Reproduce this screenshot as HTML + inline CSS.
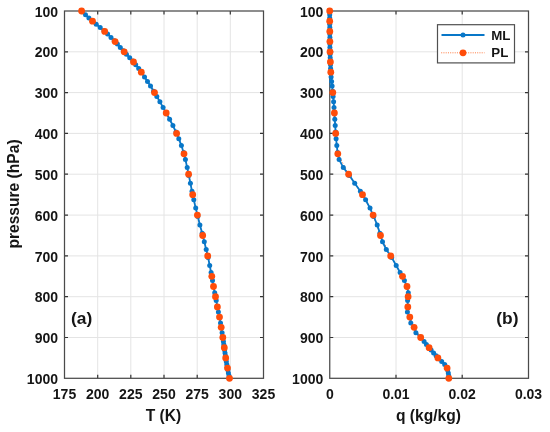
<!DOCTYPE html>
<html><head><meta charset="utf-8"><style>
html,body{margin:0;padding:0;background:#fff;}
body{width:550px;height:432px;overflow:hidden;}
svg{display:block;}
text{font-family:"Liberation Sans",Arial,sans-serif;font-weight:bold;fill:#151515;}
.tk{font-size:14px;}
.lb{font-size:15.6px;}
</style></head><body>
<svg width="550" height="432" viewBox="0 0 550 432">
<rect width="550" height="432" fill="#fff"/>
<!-- left axes -->
<rect x="64" y="11" width="199" height="367" fill="#fff"/>
<path d="M97.7 11.0V378.3M130.8 11.0V378.3M164.0 11.0V378.3M197.2 11.0V378.3M230.3 11.0V378.3M64.5 51.8H263.5M64.5 92.6H263.5M64.5 133.4H263.5M64.5 174.2H263.5M64.5 215.1H263.5M64.5 255.9H263.5M64.5 296.7H263.5M64.5 337.5H263.5" stroke="#e4e4e4" stroke-width="1" fill="none"/>
<rect x="329" y="11" width="199" height="367" fill="#fff"/>
<path d="M396.0 11.0V378.3M462.2 11.0V378.3M329.75 51.8H528.5M329.75 92.6H528.5M329.75 133.4H528.5M329.75 174.2H528.5M329.75 215.1H528.5M329.75 255.9H528.5M329.75 296.7H528.5M329.75 337.5H528.5" stroke="#e4e4e4" stroke-width="1" fill="none"/>
<path d="M97.7 378.3v-3.5M97.7 11.0v3.5M130.8 378.3v-3.5M130.8 11.0v3.5M164.0 378.3v-3.5M164.0 11.0v3.5M197.2 378.3v-3.5M197.2 11.0v3.5M230.3 378.3v-3.5M230.3 11.0v3.5M64.5 51.8h3.5M263.5 51.8h-3.5M64.5 92.6h3.5M263.5 92.6h-3.5M64.5 133.4h3.5M263.5 133.4h-3.5M64.5 174.2h3.5M263.5 174.2h-3.5M64.5 215.1h3.5M263.5 215.1h-3.5M64.5 255.9h3.5M263.5 255.9h-3.5M64.5 296.7h3.5M263.5 296.7h-3.5M64.5 337.5h3.5M263.5 337.5h-3.5" stroke="#333" stroke-width="1.2" fill="none"/>
<path d="M396.0 378.3v-3.5M396.0 11.0v3.5M462.2 378.3v-3.5M462.2 11.0v3.5M329.75 51.8h3.5M528.5 51.8h-3.5M329.75 92.6h3.5M528.5 92.6h-3.5M329.75 133.4h3.5M528.5 133.4h-3.5M329.75 174.2h3.5M528.5 174.2h-3.5M329.75 215.1h3.5M528.5 215.1h-3.5M329.75 255.9h3.5M528.5 255.9h-3.5M329.75 296.7h3.5M528.5 296.7h-3.5M329.75 337.5h3.5M528.5 337.5h-3.5" stroke="#333" stroke-width="1.2" fill="none"/>
<rect x="64.5" y="11" width="199" height="367.3" fill="none" stroke="#4a4a4a" stroke-width="1.25"/>
<rect x="329.75" y="11" width="198.75" height="367.3" fill="none" stroke="#4a4a4a" stroke-width="1.25"/>
<!-- left data -->
<polyline points="81.6,11.0 92.5,21.2 104.7,31.4 115.1,41.6 124.2,51.8 133.5,62.0 141.3,72.2 154.5,92.6 166.2,113.0 176.6,133.4 184.0,153.8 188.6,174.2 192.7,194.7 197.4,215.1 202.7,235.5 207.7,255.9 211.8,276.3 213.5,286.5 215.5,296.7 217.4,306.9 219.5,317.1 221.2,327.3 222.8,337.5 224.3,347.7 225.7,357.9 227.5,368.1 229.5,378.3" fill="none" stroke="#ff5a1a" stroke-width="1" stroke-dasharray="1 2"/>
<polyline points="81.6,11.0 82.3,11.7 85.5,14.8 88.9,17.9 92.4,21.1 96.2,24.3 100.2,27.5 104.0,30.8 107.6,34.1 111.0,37.4 114.2,40.7 117.4,44.1 120.3,47.4 123.3,50.8 126.4,54.2 129.7,57.7 132.8,61.1 135.7,64.8 138.7,68.6 141.6,72.6 144.5,76.9 147.5,81.4 150.5,86.1 153.6,91.2 156.8,96.4 159.9,101.8 163.1,107.4 166.3,113.2 169.6,119.3 172.9,125.5 176.0,132.0 178.8,138.7 181.4,145.6 183.6,152.5 185.4,159.5 187.2,167.6 188.8,175.4 190.4,183.2 192.0,191.3 193.8,199.8 195.7,208.1 197.8,216.5 199.9,224.9 202.2,233.3 204.3,241.8 206.2,249.5 208.1,257.5 209.7,265.5 211.1,272.5 212.5,280.6 213.5,286.7 214.7,292.8 216.2,300.6 217.3,306.3 218.4,311.9 219.6,317.4 220.5,322.9 221.3,327.8 222.1,332.8 222.7,337.1 223.4,341.5 223.8,344.4 224.2,347.2 224.6,350.1 225.0,353.0 225.4,355.8 225.8,358.7 226.3,361.5 226.8,364.4 227.3,367.2 227.9,370.1 228.4,373.0 229.0,375.8 229.5,378.3" fill="none" stroke="#0877c8" stroke-width="1.8"/>
<g fill="#0877c8"><circle cx="82.3" cy="11.7" r="2.5"/><circle cx="85.5" cy="14.8" r="2.5"/><circle cx="88.9" cy="17.9" r="2.5"/><circle cx="92.4" cy="21.1" r="2.5"/><circle cx="96.2" cy="24.3" r="2.5"/><circle cx="100.2" cy="27.5" r="2.5"/><circle cx="104.0" cy="30.8" r="2.5"/><circle cx="107.6" cy="34.1" r="2.5"/><circle cx="111.0" cy="37.4" r="2.5"/><circle cx="114.2" cy="40.7" r="2.5"/><circle cx="117.4" cy="44.1" r="2.5"/><circle cx="120.3" cy="47.4" r="2.5"/><circle cx="123.3" cy="50.8" r="2.5"/><circle cx="126.4" cy="54.2" r="2.5"/><circle cx="129.7" cy="57.7" r="2.5"/><circle cx="132.8" cy="61.1" r="2.5"/><circle cx="135.7" cy="64.8" r="2.5"/><circle cx="138.7" cy="68.6" r="2.5"/><circle cx="141.6" cy="72.6" r="2.5"/><circle cx="144.5" cy="76.9" r="2.5"/><circle cx="147.5" cy="81.4" r="2.5"/><circle cx="150.5" cy="86.1" r="2.5"/><circle cx="153.6" cy="91.2" r="2.5"/><circle cx="156.8" cy="96.4" r="2.5"/><circle cx="159.9" cy="101.8" r="2.5"/><circle cx="163.1" cy="107.4" r="2.5"/><circle cx="166.3" cy="113.2" r="2.5"/><circle cx="169.6" cy="119.3" r="2.5"/><circle cx="172.9" cy="125.5" r="2.5"/><circle cx="176.0" cy="132.0" r="2.5"/><circle cx="178.8" cy="138.7" r="2.5"/><circle cx="181.4" cy="145.6" r="2.5"/><circle cx="183.6" cy="152.5" r="2.5"/><circle cx="185.4" cy="159.5" r="2.5"/><circle cx="187.2" cy="167.6" r="2.5"/><circle cx="188.8" cy="175.4" r="2.5"/><circle cx="190.4" cy="183.2" r="2.5"/><circle cx="192.0" cy="191.3" r="2.5"/><circle cx="193.8" cy="199.8" r="2.5"/><circle cx="195.7" cy="208.1" r="2.5"/><circle cx="197.8" cy="216.5" r="2.5"/><circle cx="199.9" cy="224.9" r="2.5"/><circle cx="202.2" cy="233.3" r="2.5"/><circle cx="204.3" cy="241.8" r="2.5"/><circle cx="206.2" cy="249.5" r="2.5"/><circle cx="208.1" cy="257.5" r="2.5"/><circle cx="209.7" cy="265.5" r="2.5"/><circle cx="211.1" cy="272.5" r="2.5"/><circle cx="212.5" cy="280.6" r="2.5"/><circle cx="213.5" cy="286.7" r="2.5"/><circle cx="214.7" cy="292.8" r="2.5"/><circle cx="216.2" cy="300.6" r="2.5"/><circle cx="217.3" cy="306.3" r="2.5"/><circle cx="218.4" cy="311.9" r="2.5"/><circle cx="219.6" cy="317.4" r="2.5"/><circle cx="220.5" cy="322.9" r="2.5"/><circle cx="221.3" cy="327.8" r="2.5"/><circle cx="222.1" cy="332.8" r="2.5"/><circle cx="222.7" cy="337.1" r="2.5"/><circle cx="223.4" cy="341.5" r="2.5"/><circle cx="223.8" cy="344.4" r="2.5"/><circle cx="224.2" cy="347.2" r="2.5"/><circle cx="224.6" cy="350.1" r="2.5"/><circle cx="225.0" cy="353.0" r="2.5"/><circle cx="225.4" cy="355.8" r="2.5"/><circle cx="225.8" cy="358.7" r="2.5"/><circle cx="226.3" cy="361.5" r="2.5"/><circle cx="226.8" cy="364.4" r="2.5"/><circle cx="227.3" cy="367.2" r="2.5"/><circle cx="227.9" cy="370.1" r="2.5"/><circle cx="228.4" cy="373.0" r="2.5"/><circle cx="229.0" cy="375.8" r="2.5"/></g>
<g fill="#ff4d0a"><circle cx="81.6" cy="11.0" r="3.4"/><circle cx="92.5" cy="21.2" r="3.4"/><circle cx="104.7" cy="31.4" r="3.4"/><circle cx="115.1" cy="41.6" r="3.4"/><circle cx="124.2" cy="51.8" r="3.4"/><circle cx="133.5" cy="62.0" r="3.4"/><circle cx="141.3" cy="72.2" r="3.4"/><circle cx="154.5" cy="92.6" r="3.4"/><circle cx="166.2" cy="113.0" r="3.4"/><circle cx="176.6" cy="133.4" r="3.4"/><circle cx="184.0" cy="153.8" r="3.4"/><circle cx="188.6" cy="174.2" r="3.4"/><circle cx="192.7" cy="194.7" r="3.4"/><circle cx="197.4" cy="215.1" r="3.4"/><circle cx="202.7" cy="235.5" r="3.4"/><circle cx="207.7" cy="255.9" r="3.4"/><circle cx="211.8" cy="276.3" r="3.4"/><circle cx="213.5" cy="286.5" r="3.4"/><circle cx="215.5" cy="296.7" r="3.4"/><circle cx="217.4" cy="306.9" r="3.4"/><circle cx="219.5" cy="317.1" r="3.4"/><circle cx="221.2" cy="327.3" r="3.4"/><circle cx="222.8" cy="337.5" r="3.4"/><circle cx="224.3" cy="347.7" r="3.4"/><circle cx="225.7" cy="357.9" r="3.4"/><circle cx="227.5" cy="368.1" r="3.4"/><circle cx="229.5" cy="378.3" r="3.4"/></g>
<!-- right data -->
<polyline points="329.7,11.0 329.7,21.2 329.8,31.4 329.9,41.6 330.0,51.8 330.4,62.0 330.8,72.2 332.8,92.6 334.4,113.0 335.7,133.4 337.8,153.8 348.6,174.2 362.5,194.7 373.1,215.1 380.5,235.5 390.7,255.9 402.5,276.3 407.0,286.5 408.1,296.7 407.8,306.9 409.8,317.1 414.1,327.3 420.7,337.5 429.1,347.7 437.9,357.9 447.1,368.1 448.8,378.3" fill="none" stroke="#ff5a1a" stroke-width="1" stroke-dasharray="1 2"/>
<polyline points="329.7,11.0 329.7,11.7 329.7,14.8 329.7,17.9 329.7,21.1 329.7,24.3 329.8,27.5 329.8,30.8 329.8,34.1 329.9,37.4 329.9,40.7 329.9,44.1 329.9,47.4 330.0,50.8 330.1,54.2 330.2,57.7 330.4,61.1 330.5,64.8 330.6,68.6 330.8,72.6 331.1,76.9 331.6,81.4 332.1,86.1 332.7,91.2 333.1,96.4 333.6,101.8 334.0,107.4 334.4,113.2 334.8,119.3 335.2,125.5 335.6,132.0 336.1,138.7 336.8,145.6 337.6,152.5 339.1,159.5 343.3,167.6 349.4,175.4 354.7,183.2 360.4,191.3 365.6,199.8 370.0,208.1 373.7,216.5 377.2,224.9 379.9,233.3 382.5,241.8 386.3,249.5 391.7,257.5 396.2,265.5 400.1,272.5 404.4,280.6 407.1,286.7 408.3,292.8 407.6,300.6 407.8,306.3 407.4,311.9 409.9,317.4 410.8,322.9 414.3,327.8 415.9,332.8 420.3,337.1 424.1,341.5 426.4,344.4 428.7,347.2 431.1,350.1 433.6,353.0 436.1,355.8 438.6,358.7 441.7,361.5 444.7,364.4 446.8,367.2 447.6,370.1 448.3,373.0 448.7,375.8 448.8,378.3" fill="none" stroke="#0877c8" stroke-width="1.8"/>
<g fill="#0877c8"><circle cx="329.7" cy="11.7" r="2.5"/><circle cx="329.7" cy="14.8" r="2.5"/><circle cx="329.7" cy="17.9" r="2.5"/><circle cx="329.7" cy="21.1" r="2.5"/><circle cx="329.7" cy="24.3" r="2.5"/><circle cx="329.8" cy="27.5" r="2.5"/><circle cx="329.8" cy="30.8" r="2.5"/><circle cx="329.8" cy="34.1" r="2.5"/><circle cx="329.9" cy="37.4" r="2.5"/><circle cx="329.9" cy="40.7" r="2.5"/><circle cx="329.9" cy="44.1" r="2.5"/><circle cx="329.9" cy="47.4" r="2.5"/><circle cx="330.0" cy="50.8" r="2.5"/><circle cx="330.1" cy="54.2" r="2.5"/><circle cx="330.2" cy="57.7" r="2.5"/><circle cx="330.4" cy="61.1" r="2.5"/><circle cx="330.5" cy="64.8" r="2.5"/><circle cx="330.6" cy="68.6" r="2.5"/><circle cx="330.8" cy="72.6" r="2.5"/><circle cx="331.1" cy="76.9" r="2.5"/><circle cx="331.6" cy="81.4" r="2.5"/><circle cx="332.1" cy="86.1" r="2.5"/><circle cx="332.7" cy="91.2" r="2.5"/><circle cx="333.1" cy="96.4" r="2.5"/><circle cx="333.6" cy="101.8" r="2.5"/><circle cx="334.0" cy="107.4" r="2.5"/><circle cx="334.4" cy="113.2" r="2.5"/><circle cx="334.8" cy="119.3" r="2.5"/><circle cx="335.2" cy="125.5" r="2.5"/><circle cx="335.6" cy="132.0" r="2.5"/><circle cx="336.1" cy="138.7" r="2.5"/><circle cx="336.8" cy="145.6" r="2.5"/><circle cx="337.6" cy="152.5" r="2.5"/><circle cx="339.1" cy="159.5" r="2.5"/><circle cx="343.3" cy="167.6" r="2.5"/><circle cx="349.4" cy="175.4" r="2.5"/><circle cx="354.7" cy="183.2" r="2.5"/><circle cx="360.4" cy="191.3" r="2.5"/><circle cx="365.6" cy="199.8" r="2.5"/><circle cx="370.0" cy="208.1" r="2.5"/><circle cx="373.7" cy="216.5" r="2.5"/><circle cx="377.2" cy="224.9" r="2.5"/><circle cx="379.9" cy="233.3" r="2.5"/><circle cx="382.5" cy="241.8" r="2.5"/><circle cx="386.3" cy="249.5" r="2.5"/><circle cx="391.7" cy="257.5" r="2.5"/><circle cx="396.2" cy="265.5" r="2.5"/><circle cx="400.1" cy="272.5" r="2.5"/><circle cx="404.4" cy="280.6" r="2.5"/><circle cx="407.1" cy="286.7" r="2.5"/><circle cx="408.3" cy="292.8" r="2.5"/><circle cx="407.6" cy="300.6" r="2.5"/><circle cx="407.8" cy="306.3" r="2.5"/><circle cx="407.4" cy="311.9" r="2.5"/><circle cx="409.9" cy="317.4" r="2.5"/><circle cx="410.8" cy="322.9" r="2.5"/><circle cx="414.3" cy="327.8" r="2.5"/><circle cx="415.9" cy="332.8" r="2.5"/><circle cx="420.3" cy="337.1" r="2.5"/><circle cx="424.1" cy="341.5" r="2.5"/><circle cx="426.4" cy="344.4" r="2.5"/><circle cx="428.7" cy="347.2" r="2.5"/><circle cx="431.1" cy="350.1" r="2.5"/><circle cx="433.6" cy="353.0" r="2.5"/><circle cx="436.1" cy="355.8" r="2.5"/><circle cx="438.6" cy="358.7" r="2.5"/><circle cx="441.7" cy="361.5" r="2.5"/><circle cx="444.7" cy="364.4" r="2.5"/><circle cx="446.8" cy="367.2" r="2.5"/><circle cx="447.6" cy="370.1" r="2.5"/><circle cx="448.3" cy="373.0" r="2.5"/><circle cx="448.7" cy="375.8" r="2.5"/></g>
<g fill="#ff4d0a"><circle cx="329.7" cy="11.0" r="3.4"/><circle cx="329.7" cy="21.2" r="3.4"/><circle cx="329.8" cy="31.4" r="3.4"/><circle cx="329.9" cy="41.6" r="3.4"/><circle cx="330.0" cy="51.8" r="3.4"/><circle cx="330.4" cy="62.0" r="3.4"/><circle cx="330.8" cy="72.2" r="3.4"/><circle cx="332.8" cy="92.6" r="3.4"/><circle cx="334.4" cy="113.0" r="3.4"/><circle cx="335.7" cy="133.4" r="3.4"/><circle cx="337.8" cy="153.8" r="3.4"/><circle cx="348.6" cy="174.2" r="3.4"/><circle cx="362.5" cy="194.7" r="3.4"/><circle cx="373.1" cy="215.1" r="3.4"/><circle cx="380.5" cy="235.5" r="3.4"/><circle cx="390.7" cy="255.9" r="3.4"/><circle cx="402.5" cy="276.3" r="3.4"/><circle cx="407.0" cy="286.5" r="3.4"/><circle cx="408.1" cy="296.7" r="3.4"/><circle cx="407.8" cy="306.9" r="3.4"/><circle cx="409.8" cy="317.1" r="3.4"/><circle cx="414.1" cy="327.3" r="3.4"/><circle cx="420.7" cy="337.5" r="3.4"/><circle cx="429.1" cy="347.7" r="3.4"/><circle cx="437.9" cy="357.9" r="3.4"/><circle cx="447.1" cy="368.1" r="3.4"/><circle cx="448.8" cy="378.3" r="3.4"/></g>
<!-- frames: clip cover outside -->
<g class="tk" text-anchor="end"><text x="58" y="16.6">100</text><text x="58" y="57.4">200</text><text x="58" y="98.2">300</text><text x="58" y="139.0">400</text><text x="58" y="179.8">500</text><text x="58" y="220.7">600</text><text x="58" y="261.5">700</text><text x="58" y="302.3">800</text><text x="58" y="343.1">900</text><text x="58" y="383.9">1000</text></g>
<g class="tk" text-anchor="end"><text x="323.25" y="16.6">100</text><text x="323.25" y="57.4">200</text><text x="323.25" y="98.2">300</text><text x="323.25" y="139.0">400</text><text x="323.25" y="179.8">500</text><text x="323.25" y="220.7">600</text><text x="323.25" y="261.5">700</text><text x="323.25" y="302.3">800</text><text x="323.25" y="343.1">900</text><text x="323.25" y="383.9">1000</text></g>
<g class="tk" text-anchor="middle"><text x="64.5" y="399">175</text><text x="97.7" y="399">200</text><text x="130.8" y="399">225</text><text x="164.0" y="399">250</text><text x="197.2" y="399">275</text><text x="230.3" y="399">300</text><text x="263.5" y="399">325</text><text x="329.8" y="399">0</text><text x="396.0" y="399">0.01</text><text x="462.2" y="399">0.02</text><text x="528.5" y="399">0.03</text></g>
<g class="lb" text-anchor="middle">
<text x="163.5" y="420.5">T (K)</text>
<text x="428.5" y="420.5">q (kg/kg)</text>
<text transform="translate(19 194) rotate(-90)">pressure (hPa)</text>
</g>
<text x="81.7" y="324" font-size="17.4" text-anchor="middle">(a)</text>
<text x="507.4" y="324" font-size="17.4" text-anchor="middle">(b)</text>
<!-- legend -->
<rect x="437.5" y="24.7" width="77" height="38.2" fill="#fff" stroke="#505050" stroke-width="1.2"/>
<line x1="441.5" y1="35" x2="484.5" y2="35" stroke="#0877c8" stroke-width="1.8"/>
<circle cx="463" cy="35" r="2.5" fill="#0877c8"/>
<line x1="441.2" y1="52.8" x2="484.5" y2="52.8" stroke="#ff7a40" stroke-width="1" stroke-dasharray="1 1.25"/>
<circle cx="463" cy="52.8" r="3.4" fill="#ff4d0a"/>
<text x="491.3" y="39.9" font-size="13.3">ML</text>
<text x="491.3" y="57.4" font-size="13.3">PL</text>
</svg>
</body></html>
